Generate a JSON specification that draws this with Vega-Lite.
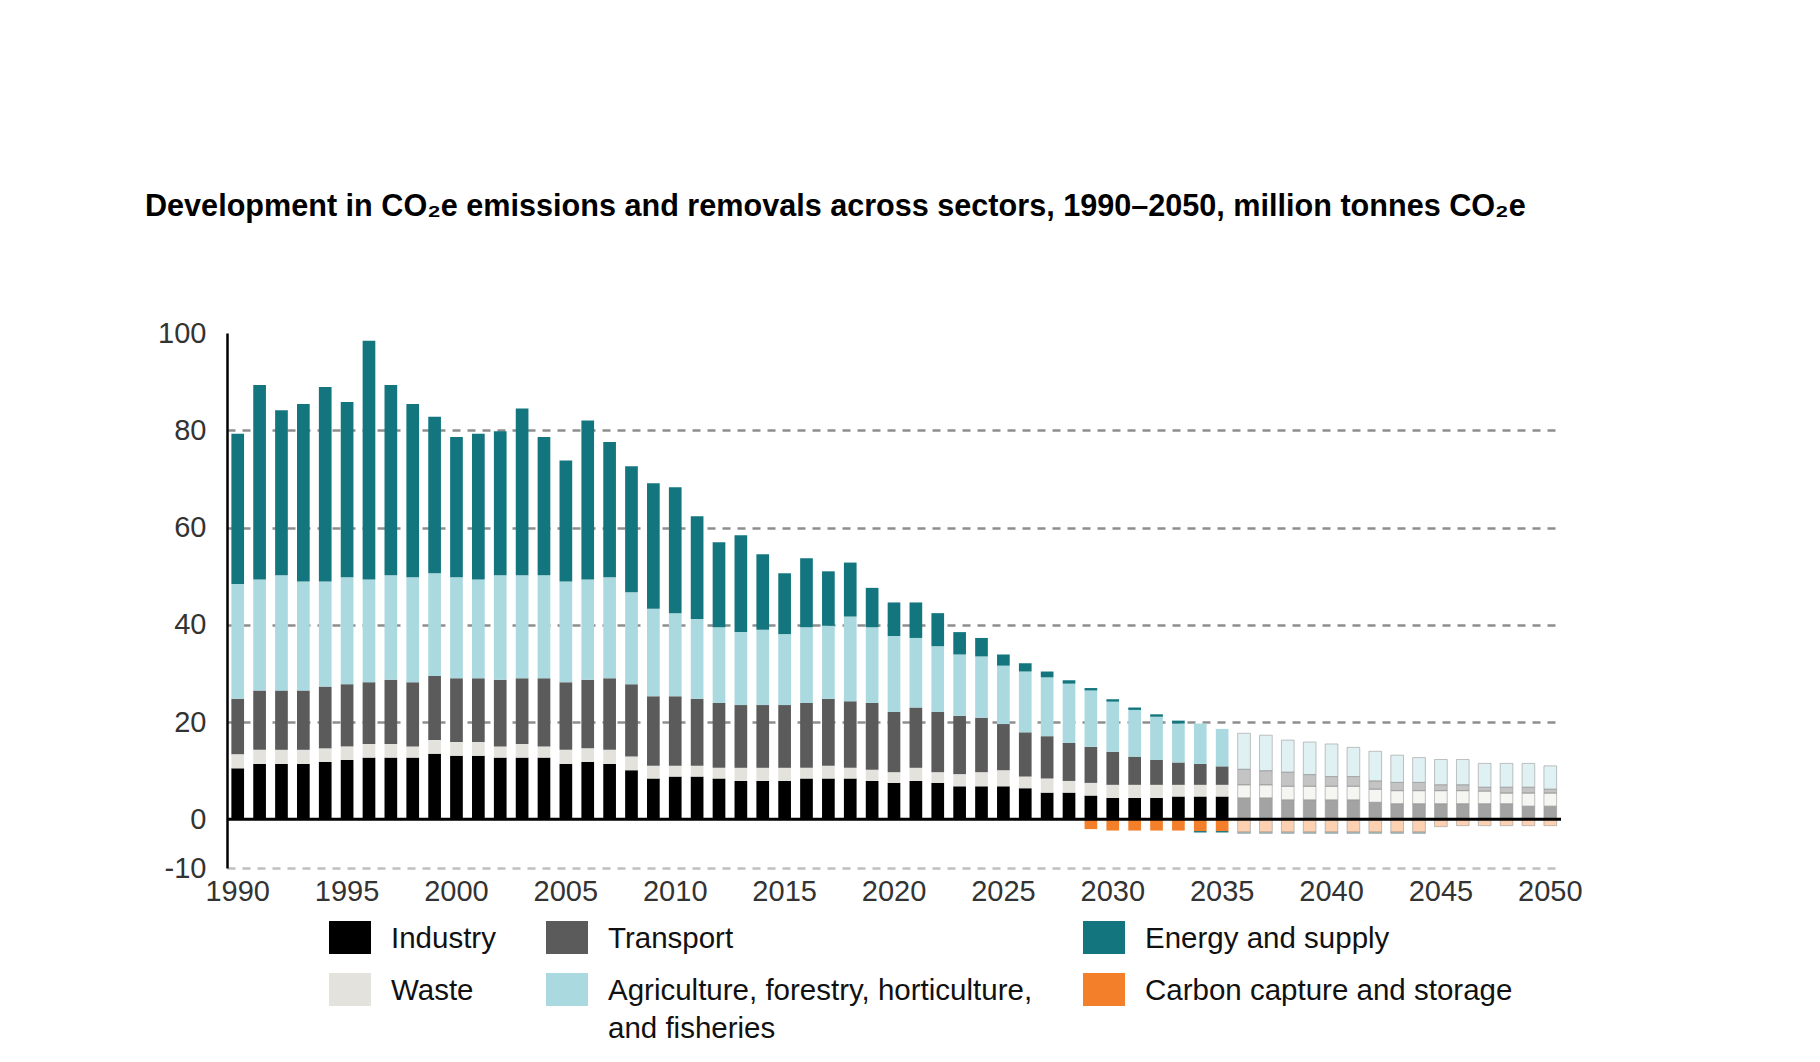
{
  "$schema": "https://vega.github.io/schema/vega-lite/v6.json",
  "autosize": {"type": "none"},
  "padding": {"left": 227, "top": 333, "right": 259, "bottom": 194},
  "width": 1334,
  "height": 535,
  "background": "white",
  "title": {
    "text": "Development in CO₂e emissions and removals across sectors, 1990–2050, million tonnes CO₂e",
    "anchor": "start",
    "frame": "group",
    "dx": -82,
    "offset": 72,
    "baseline": "alphabetic",
    "font": "Liberation Sans",
    "fontSize": 30.6,
    "fontWeight": "bold",
    "color": "#000000"
  },
  "config": {
    "view": {"stroke": null},
    "style": {"guide-label": {"lineHeight": 38}}
  },
  "datasets": {
    "emissions": [
      {"year": 1990, "industry": 10.5, "waste": 2.9, "transport": 11.4, "agriculture": 23.6, "energy": 30.9, "ccs": 0},
      {"year": 1991, "industry": 11.4, "waste": 2.9, "transport": 12.2, "agriculture": 22.8, "energy": 40.0, "ccs": 0},
      {"year": 1992, "industry": 11.4, "waste": 2.9, "transport": 12.2, "agriculture": 23.7, "energy": 33.9, "ccs": 0},
      {"year": 1993, "industry": 11.4, "waste": 2.9, "transport": 12.2, "agriculture": 22.4, "energy": 36.5, "ccs": 0},
      {"year": 1994, "industry": 11.8, "waste": 2.8, "transport": 12.7, "agriculture": 21.6, "energy": 40.0, "ccs": 0},
      {"year": 1995, "industry": 12.2, "waste": 2.8, "transport": 12.8, "agriculture": 22.0, "energy": 36.0, "ccs": 0},
      {"year": 1996, "industry": 12.7, "waste": 2.8, "transport": 12.7, "agriculture": 21.1, "energy": 49.1, "ccs": 0},
      {"year": 1997, "industry": 12.7, "waste": 2.8, "transport": 13.2, "agriculture": 21.5, "energy": 39.1, "ccs": 0},
      {"year": 1998, "industry": 12.7, "waste": 2.3, "transport": 13.2, "agriculture": 21.6, "energy": 35.6, "ccs": 0},
      {"year": 1999, "industry": 13.5, "waste": 2.8, "transport": 13.2, "agriculture": 21.1, "energy": 32.2, "ccs": 0},
      {"year": 2000, "industry": 13.1, "waste": 2.8, "transport": 13.1, "agriculture": 20.8, "energy": 28.8, "ccs": 0},
      {"year": 2001, "industry": 13.1, "waste": 2.8, "transport": 13.1, "agriculture": 20.3, "energy": 30.0, "ccs": 0},
      {"year": 2002, "industry": 12.7, "waste": 2.3, "transport": 13.7, "agriculture": 21.5, "energy": 29.6, "ccs": 0},
      {"year": 2003, "industry": 12.7, "waste": 2.8, "transport": 13.5, "agriculture": 21.2, "energy": 34.3, "ccs": 0},
      {"year": 2004, "industry": 12.7, "waste": 2.3, "transport": 14.0, "agriculture": 21.2, "energy": 28.4, "ccs": 0},
      {"year": 2005, "industry": 11.4, "waste": 2.9, "transport": 13.9, "agriculture": 20.7, "energy": 24.9, "ccs": 0},
      {"year": 2006, "industry": 11.8, "waste": 2.8, "transport": 14.1, "agriculture": 20.6, "energy": 32.7, "ccs": 0},
      {"year": 2007, "industry": 11.4, "waste": 2.9, "transport": 14.7, "agriculture": 20.8, "energy": 27.8, "ccs": 0},
      {"year": 2008, "industry": 10.1, "waste": 2.8, "transport": 14.9, "agriculture": 18.9, "energy": 25.9, "ccs": 0},
      {"year": 2009, "industry": 8.4, "waste": 2.6, "transport": 14.3, "agriculture": 18.0, "energy": 25.8, "ccs": 0},
      {"year": 2010, "industry": 8.8, "waste": 2.2, "transport": 14.3, "agriculture": 17.1, "energy": 25.9, "ccs": 0},
      {"year": 2011, "industry": 8.8, "waste": 2.2, "transport": 13.8, "agriculture": 16.4, "energy": 21.1, "ccs": 0},
      {"year": 2012, "industry": 8.4, "waste": 2.2, "transport": 13.3, "agriculture": 15.6, "energy": 17.5, "ccs": 0},
      {"year": 2013, "industry": 7.9, "waste": 2.7, "transport": 12.9, "agriculture": 15.0, "energy": 19.9, "ccs": 0},
      {"year": 2014, "industry": 7.9, "waste": 2.7, "transport": 12.9, "agriculture": 15.5, "energy": 15.5, "ccs": 0},
      {"year": 2015, "industry": 7.9, "waste": 2.7, "transport": 12.9, "agriculture": 14.6, "energy": 12.5, "ccs": 0},
      {"year": 2016, "industry": 8.4, "waste": 2.2, "transport": 13.3, "agriculture": 15.6, "energy": 14.2, "ccs": 0},
      {"year": 2017, "industry": 8.4, "waste": 2.6, "transport": 13.8, "agriculture": 15.0, "energy": 11.2, "ccs": 0},
      {"year": 2018, "industry": 8.4, "waste": 2.2, "transport": 13.7, "agriculture": 17.4, "energy": 11.1, "ccs": 0},
      {"year": 2019, "industry": 7.9, "waste": 2.3, "transport": 13.7, "agriculture": 15.6, "energy": 8.1, "ccs": 0},
      {"year": 2020, "industry": 7.5, "waste": 2.2, "transport": 12.4, "agriculture": 15.6, "energy": 6.9, "ccs": 0},
      {"year": 2021, "industry": 7.9, "waste": 2.7, "transport": 12.4, "agriculture": 14.3, "energy": 7.3, "ccs": 0},
      {"year": 2022, "industry": 7.5, "waste": 2.2, "transport": 12.4, "agriculture": 13.5, "energy": 6.8, "ccs": 0},
      {"year": 2023, "industry": 6.8, "waste": 2.5, "transport": 12.0, "agriculture": 12.6, "energy": 4.6, "ccs": 0},
      {"year": 2024, "industry": 6.8, "waste": 2.9, "transport": 11.2, "agriculture": 12.6, "energy": 3.8, "ccs": 0},
      {"year": 2025, "industry": 6.8, "waste": 3.3, "transport": 9.5, "agriculture": 12.0, "energy": 2.3, "ccs": 0},
      {"year": 2026, "industry": 6.4, "waste": 2.4, "transport": 9.1, "agriculture": 12.5, "energy": 1.7, "ccs": 0},
      {"year": 2027, "industry": 5.5, "waste": 2.9, "transport": 8.7, "agriculture": 12.1, "energy": 1.2, "ccs": 0},
      {"year": 2028, "industry": 5.5, "waste": 2.4, "transport": 7.8, "agriculture": 12.2, "energy": 0.7, "ccs": 0},
      {"year": 2029, "industry": 4.9, "waste": 2.6, "transport": 7.4, "agriculture": 11.6, "energy": 0.5, "ccs": -2.0},
      {"year": 2030, "industry": 4.4, "waste": 2.7, "transport": 6.8, "agriculture": 10.3, "energy": 0.5, "ccs": -2.3},
      {"year": 2031, "industry": 4.4, "waste": 2.7, "transport": 5.8, "agriculture": 9.6, "energy": 0.5, "ccs": -2.3},
      {"year": 2032, "industry": 4.4, "waste": 2.7, "transport": 5.1, "agriculture": 8.9, "energy": 0.5, "ccs": -2.3},
      {"year": 2033, "industry": 4.7, "waste": 2.4, "transport": 4.6, "agriculture": 8.0, "energy": 0.6, "ccs": -2.3},
      {"year": 2034, "industry": 4.7, "waste": 2.4, "transport": 4.3, "agriculture": 8.3, "energy": -0.3, "ccs": -2.4},
      {"year": 2035, "industry": 4.7, "waste": 2.4, "transport": 3.8, "agriculture": 7.7, "energy": -0.3, "ccs": -2.4},
      {"year": 2036, "industry": 4.4, "waste": 2.7, "transport": 3.2, "agriculture": 7.4, "energy": -0.3, "ccs": -2.6},
      {"year": 2037, "industry": 4.4, "waste": 2.7, "transport": 2.9, "agriculture": 7.3, "energy": -0.3, "ccs": -2.6},
      {"year": 2038, "industry": 4.0, "waste": 2.8, "transport": 2.9, "agriculture": 6.6, "energy": -0.3, "ccs": -2.6},
      {"year": 2039, "industry": 4.0, "waste": 2.8, "transport": 2.4, "agriculture": 6.7, "energy": -0.3, "ccs": -2.6},
      {"year": 2040, "industry": 4.0, "waste": 2.8, "transport": 2.0, "agriculture": 6.7, "energy": -0.3, "ccs": -2.6},
      {"year": 2041, "industry": 4.0, "waste": 2.8, "transport": 2.0, "agriculture": 6.0, "energy": -0.3, "ccs": -2.6},
      {"year": 2042, "industry": 3.5, "waste": 2.7, "transport": 1.7, "agriculture": 6.1, "energy": -0.3, "ccs": -2.6},
      {"year": 2043, "industry": 3.2, "waste": 2.7, "transport": 1.7, "agriculture": 5.6, "energy": -0.3, "ccs": -2.6},
      {"year": 2044, "industry": 3.2, "waste": 2.7, "transport": 1.7, "agriculture": 5.1, "energy": -0.3, "ccs": -2.6},
      {"year": 2045, "industry": 3.2, "waste": 2.7, "transport": 1.2, "agriculture": 5.2, "energy": 0, "ccs": -1.5},
      {"year": 2046, "industry": 3.2, "waste": 2.7, "transport": 1.2, "agriculture": 5.2, "energy": 0, "ccs": -1.3},
      {"year": 2047, "industry": 3.2, "waste": 2.6, "transport": 0.8, "agriculture": 4.9, "energy": 0, "ccs": -1.3},
      {"year": 2048, "industry": 3.2, "waste": 2.2, "transport": 1.2, "agriculture": 4.9, "energy": 0, "ccs": -1.3},
      {"year": 2049, "industry": 2.7, "waste": 2.7, "transport": 1.2, "agriculture": 4.9, "energy": 0, "ccs": -1.3},
      {"year": 2050, "industry": 2.7, "waste": 2.7, "transport": 0.8, "agriculture": 4.8, "energy": 0, "ccs": -1.3}
    ],
    "sectors": [
      {"key": "industry", "sector": "Industry", "rank": 1},
      {"key": "waste", "sector": "Waste", "rank": 2},
      {"key": "transport", "sector": "Transport", "rank": 3},
      {"key": "agriculture", "sector": "Agriculture, forestry, horticulture, and fisheries", "rank": 4},
      {"key": "ccs", "sector": "Carbon capture and storage", "rank": 5},
      {"key": "energy", "sector": "Energy and supply", "rank": 6}
    ]
  },
  "layer": [
    {
      "data": {"name": "emissions"},
      "transform": [
        {"fold": ["industry", "waste", "transport", "agriculture", "energy", "ccs"], "as": ["key", "value"]},
        {"filter": "datum.value != 0"},
        {"lookup": "key", "from": {"data": {"name": "sectors"}, "key": "key", "fields": ["sector", "rank"]}}
      ],
      "mark": {"type": "bar", "stroke": "#9a9a9a", "strokeWidth": 1},
      "encoding": {
        "x": {
          "field": "year",
          "type": "ordinal",
          "scale": {"paddingInner": 0.42, "paddingOuter": 0.2},
          "axis": {
            "values": [1990, 1995, 2000, 2005, 2010, 2015, 2020, 2025, 2030, 2035, 2040, 2045, 2050],
            "title": null,
            "ticks": false,
            "domain": false,
            "grid": false,
            "labelAngle": 0,
            "labelOverlap": false,
            "labelFont": "Liberation Sans",
            "labelFontSize": 29,
            "labelColor": "#333333",
            "labelPadding": 9
          }
        },
        "y": {
          "field": "value",
          "type": "quantitative",
          "stack": "zero",
          "scale": {"domain": [-10, 100], "nice": false, "zero": false},
          "axis": {
            "values": [-10, 0, 20, 40, 60, 80, 100],
            "labelExpr": "'' + datum.value",
            "title": null,
            "ticks": false,
            "domainColor": "#000000",
            "domainWidth": 2.5,
            "labelFont": "Liberation Sans",
            "labelFontSize": 29,
            "labelColor": "#333333",
            "labelPadding": 21,
            "gridDash": [8, 7],
            "gridWidth": 2.5,
            "gridColor": {"condition": {"test": "datum.value == -10", "value": "#c0c0c0"}, "value": "#8e8e8e"},
            "gridOpacity": {"condition": {"test": "datum.value == 100 || datum.value == 0", "value": 0}, "value": 1}
          }
        },
        "color": {
          "field": "sector",
          "type": "nominal",
          "scale": {
            "domain": ["Industry", "Transport", "Energy and supply", "Waste", "Agriculture, forestry, horticulture, and fisheries", "Carbon capture and storage"],
            "range": ["#000000", "#5b5b5b", "#13767f", "#e4e2dc", "#aad9df", "#f47f2a"]
          },
          "legend": {
            "orient": "none",
            "legendX": 102,
            "legendY": 594,
            "title": null,
            "padding": 0,
            "columns": 3,
            "direction": "horizontal",
            "gridAlign": "each",
            "columnPadding": 50,
            "rowPadding": 18,
            "symbolType": "M-1,-1.29H1V0.28H-1Z",
            "symbolSize": 1764,
            "symbolStrokeWidth": 0,
            "symbolOpacity": 1,
            "labelFont": "Liberation Sans",
            "labelFontSize": 29.5,
            "labelColor": "#111111",
            "labelOffset": 20,
            "labelBaseline": "alphabetic",
            "labelLimit": 1000,
            "labelExpr": "datum.label == 'Agriculture, forestry, horticulture, and fisheries' ? ['Agriculture, forestry, horticulture,', 'and fisheries'] : datum.label"
          }
        },
        "order": {"field": "rank", "type": "quantitative"},
        "fillOpacity": {"condition": {"test": "datum.year > 2035", "value": 0.36}, "value": 1},
        "strokeOpacity": {"condition": {"test": "datum.year > 2035", "value": 0.6}, "value": 0}
      }
    },
    {
      "data": {"values": [{}]},
      "mark": {"type": "rule", "color": "#000000", "strokeWidth": 3},
      "encoding": {"y": {"datum": 0}}
    }
  ]
}
